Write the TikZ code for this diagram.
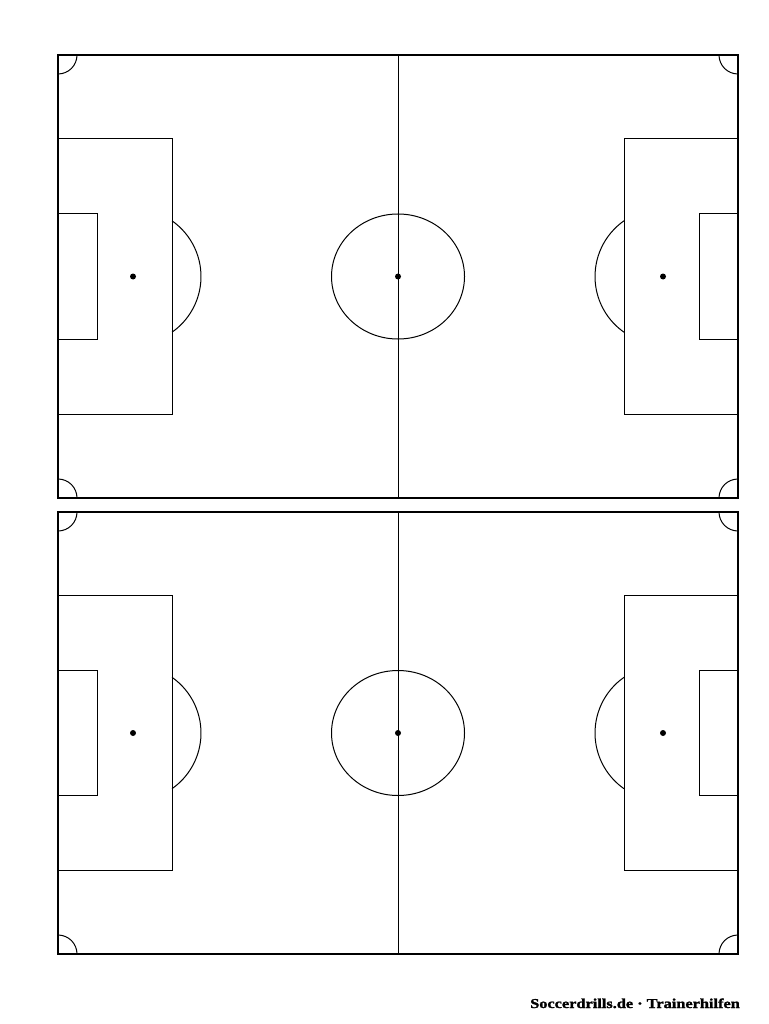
\documentclass[tikz,border=0pt]{standalone}
\usepackage{fontspec}
\setmainfont{Liberation Serif}
\newfontfamily\creditfont[FakeStretch=1.2,FakeBold=1.5]{Liberation Serif}
\begin{document}
\begin{tikzpicture}[x=1pt,y=-1pt,
  outline/.style={line width=1.5pt},
  fieldline/.style={line width=1pt},
  spot/.style={fill=black},
  credit/.style={font=\creditfont\bfseries\fontsize{13.6}{13.6}\selectfont, anchor=base east, inner sep=0pt}]
\useasboundingbox (0,0) rectangle (768,1024);
\fill[white] (0,0) rectangle (768,1024);
% one pitch: top y, bottom y
\foreach \t/\b in {55/498, 512/954}{
  \pgfmathsetmacro{\m}{(\t+\b)/2}
  \draw[outline] (58,\t) rectangle (738,\b);
  \draw[fieldline] (398,\t) -- (398,\b);
  \draw[fieldline] (398,\m) ellipse [x radius=66.5, y radius=62.5];
  \fill[spot] (398,\m) circle (3);
  % left penalty area
  \draw[fieldline] (58,\m-137.5) -- (172,\m-137.5) -- (172,\m+137.5) -- (58,\m+137.5);
  \draw[fieldline] (58,\m-62.5) -- (97,\m-62.5) -- (97,\m+62.5) -- (58,\m+62.5);
  \fill[spot] (133,\m) circle (3);
  \draw[fieldline] (172,\m-55.7) arc [start angle=-55, end angle=55, radius=68];
  % right penalty area
  \draw[fieldline] (738,\m-137.5) -- (624,\m-137.5) -- (624,\m+137.5) -- (738,\m+137.5);
  \draw[fieldline] (738,\m-62.5) -- (699,\m-62.5) -- (699,\m+62.5) -- (738,\m+62.5);
  \fill[spot] (663,\m) circle (3);
  \draw[fieldline] (624,\m-55.7) arc [start angle=235, end angle=125, radius=68];
  % corner arcs
  \draw[fieldline] (77,\t) arc [start angle=0, end angle=90, radius=19];
  \draw[fieldline] (719,\t) arc [start angle=180, end angle=90, radius=19];
  \draw[fieldline] (77,\b) arc [start angle=0, end angle=-90, radius=19];
  \draw[fieldline] (719,\b) arc [start angle=180, end angle=270, radius=19];
}
\node[credit] (credit) at (740,1008) {Soccerdrills.de · Trainerhilfen};
\end{tikzpicture}
\end{document}
